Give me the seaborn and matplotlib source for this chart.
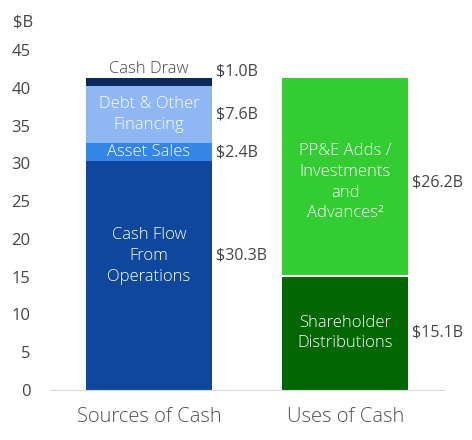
import pandas as pd
import seaborn as sns
from matplotlib import pyplot as plt

# valori in miliardi di dollari
groups = ["Sources of Cash", "Uses of Cash"]
source_items = ["Cash Flow\nFrom\nOperations", "Asset Sales", "Debt & Other\nFinancing", "Cash Draw"]
source_values = [30.3, 2.4, 7.6, 1.0]
source_labels = ["$30.3B", "$2.4B", "$7.6B", "$1.0B"]
use_items = ["Shareholder\nDistributions", "PP&E Adds /\nInvestments\nand\nAdvances\u00b2"]
use_values = [15.1, 26.2]
use_labels = ["$15.1B", "$26.2B"]

source_colors = ["#0E479C", "#3385E8", "#8FB7F3", "#0B2A5C"]
use_colors = ["#026602", "#33CC33"]

sns.set_style("white")
plt.rcParams["font.family"] = ["Open Sans", "DejaVu Sans"]

# tabella lunga con i totali cumulati (barre sovrapposte)
rows = []
for grp, items, vals, labs, cols in [(groups[0], source_items, source_values, source_labels, source_colors),
                                     (groups[1], use_items, use_values, use_labels, use_colors)]:
    base = 0
    for it, v, lab, c in zip(items, vals, labs, cols):
        rows.append({"group": grp, "item": it, "value": v, "label": lab,
                     "bottom": base, "top": base + v, "color": c})
        base += v
df = pd.DataFrame(rows)

fig = plt.figure(figsize=(4.72, 4.4), dpi=100)
ax = fig.add_axes([0.106, 0.1136, 0.835, 0.7727])

width = 0.643
# si disegna dal totale piu alto al piu basso
for _, r in df.sort_values("top", ascending=False).iterrows():
    sns.barplot(data=df[df["item"] == r["item"]], x="group", y="top", order=groups,
                color=r["color"], width=width, saturation=1, ax=ax, linewidth=0)

txt_col = "#454545"
gx = {g: i for i, g in enumerate(groups)}
for _, r in df.iterrows():
    x = gx[r["group"]]
    mid = (r["bottom"] + r["top"]) / 2
    if r["item"] == "Cash Draw":
        ax.text(x, r["top"] + 0.1, "Cash Draw", ha="center", va="bottom",
                fontsize=12, color=txt_col, fontweight="light")
        ax.text(x + width / 2 + 0.02, r["top"] + 0.9, r["label"], ha="left", va="center",
                fontsize=11.5, color=txt_col)
        continue
    if r["item"].startswith("Cash Flow"):
        mid = mid + 2.6
    if r["item"].startswith("PP&E"):
        mid = mid - 0.7
    ax.text(x, mid, r["item"], ha="center", va="center", fontsize=12,
            color="white", linespacing=1.4, fontweight="light")
    ax.text(x + width / 2 + 0.02, mid, r["label"], ha="left", va="center",
            fontsize=11.5, color=txt_col)

# linea bianca tra i due segmenti verdi
top_sh = df.loc[df["item"] == use_items[0], "top"].iloc[0]
ax.hlines(top_sh, gx[groups[1]] - width / 2, gx[groups[1]] + width / 2,
          color="white", linewidth=1.5)

ax.set_xlim(-0.505, 1.505)
ax.set_ylim(0, 45)
ax.set_yticks(range(0, 46, 5))
ax.set_xlabel("")
ax.set_ylabel("")
ax.tick_params(axis="y", length=0, labelsize=12, labelcolor=txt_col, pad=14)
ax.tick_params(axis="x", length=0, labelsize=14.5, labelcolor="#505050", pad=12)
for lab in ax.get_xticklabels():
    lab.set_fontweight("light")
sns.despine(ax=ax, left=True)
ax.spines["bottom"].set_color("#d9d9d9")
ax.text(-0.068, 48.7, "$B", transform=ax.get_yaxis_transform(), ha="center", va="center",
        fontsize=12, color=txt_col, clip_on=False)

fig.savefig("out.png", dpi=100)
